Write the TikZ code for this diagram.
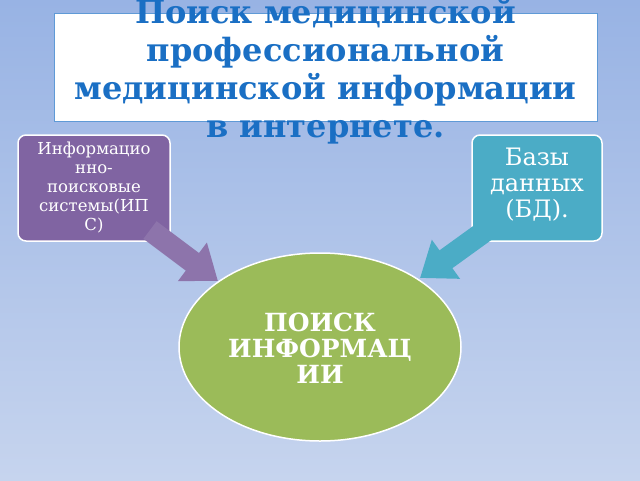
\documentclass[tikz,border=0pt]{standalone}
\usepackage{fontspec}
\setmainfont{DejaVu Serif}
\usetikzlibrary{arrows.meta,shapes.geometric}
\definecolor{bgtop}{HTML}{98B3E4}
\definecolor{bgbot}{HTML}{C6D4EE}
\definecolor{titleblue}{HTML}{1A6FC4}
\definecolor{purp}{HTML}{8064A2}
\definecolor{teal}{HTML}{4BACC6}
\definecolor{grn}{HTML}{9BBB59}
\begin{document}
\begin{tikzpicture}[x=1pt,y=-1pt,
  box/.style={draw=white,line width=1.5pt,rounded corners=8pt,text=white,align=center,inner sep=2pt},
  blockarrow/.style={line width=22pt,-{Triangle[width=46pt,length=32pt]}}]
\useasboundingbox (0,0) rectangle (640,480);
\shade[top color=bgtop,bottom color=bgbot] (0,0) rectangle (640,480);
\node[draw=titleblue!70,line width=1pt,fill=white,minimum width=543pt,minimum height=108pt] (title) at (325.5,67) {};
\node[text=titleblue,font=\bfseries\fontsize{32}{38}\selectfont,align=center] (tt) at (325.5,71) {Поиск медицинской\\профессиональной\\медицинской информации\\в интернете.};
\node[box,fill=purp,minimum width=152pt,minimum height=106pt] (l) at (94,188) {};
\node[text=white,font=\fontsize{16.5}{19}\selectfont,align=center] (lt) at (94,188) {Информацио\\нно-\\поисковые\\системы(ИП\\С)};
\node[box,fill=teal,minimum width=130pt,minimum height=106pt] (r) at (537,188) {};
\node[text=white,font=\fontsize{24}{26}\selectfont,align=center] (rt) at (537,185) {Базы\\данных\\(БД).};
\coordinate (la) at (150,230);
\coordinate (lb) at (218,281);
\coordinate (ra) at (492,226);
\coordinate (rb) at (420,278);
\draw[blockarrow,draw=purp!90!white,fill=purp!90!white] (la) -- (lb);
\draw[blockarrow,draw=teal,fill=teal] (ra) -- (rb);
\node[ellipse,draw=white,line width=1.5pt,fill=grn,minimum width=282pt,minimum height=188pt] (e) at (320,347) {};
\node[text=white,font=\bfseries\fontsize{25}{26}\selectfont,align=center] (et) at (320,348) {ПОИСК\\ИНФОРМАЦ\\ИИ};
\end{tikzpicture}
\end{document}
